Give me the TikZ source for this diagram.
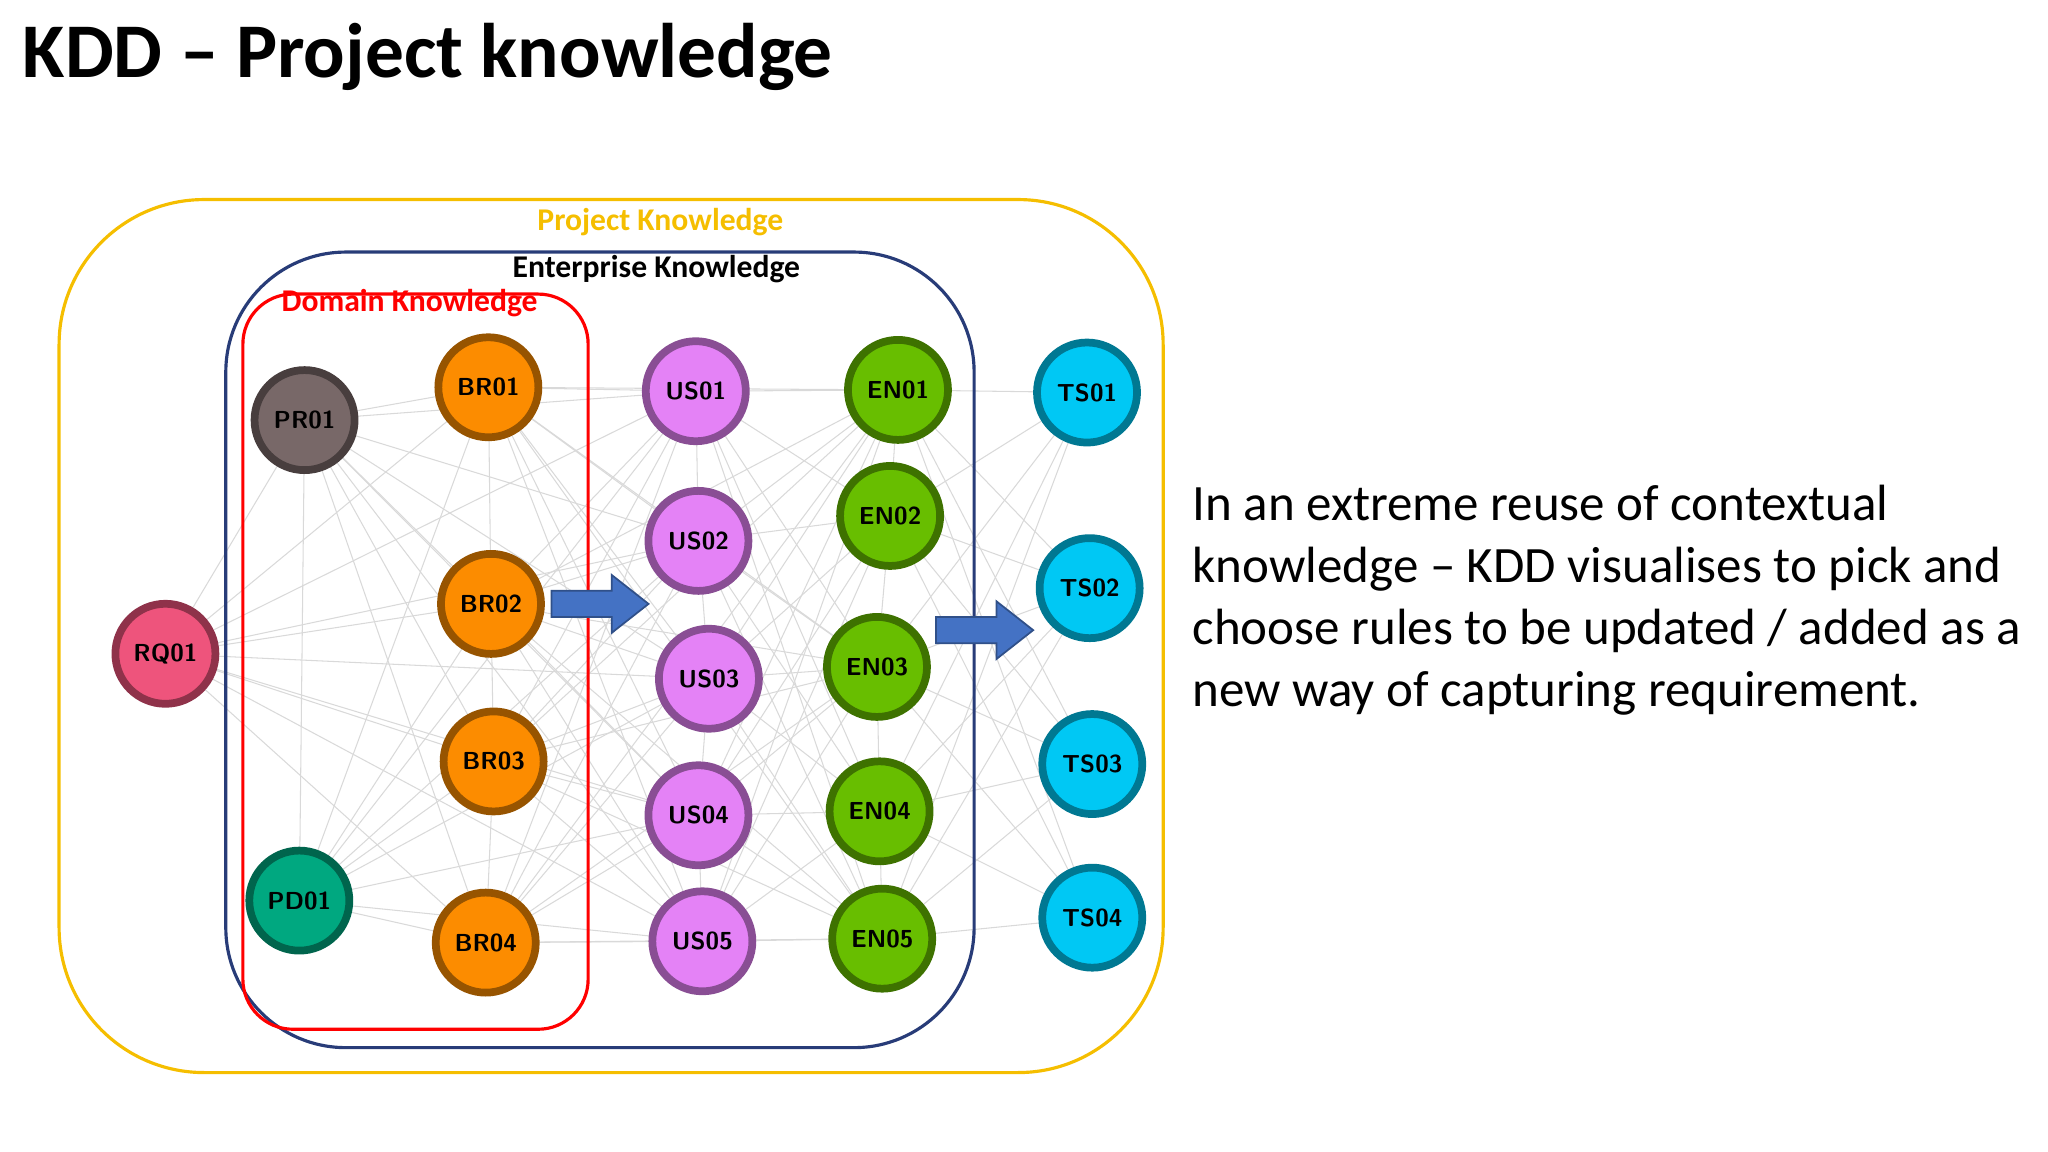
\documentclass[tikz,border=0pt]{standalone}
\usepackage{fontspec}
\setmainfont{Carlito}
\usetikzlibrary{backgrounds}
\definecolor{prc}{RGB}{120,104,104}
\definecolor{brc}{RGB}{252,140,0}
\definecolor{pdc}{RGB}{0,168,128}
\definecolor{rqc}{RGB}{238,84,124}
\definecolor{usc}{RGB}{228,130,246}
\definecolor{enc}{RGB}{104,190,0}
\definecolor{tsc}{RGB}{0,200,244}
\definecolor{pkc}{RGB}{245,190,0}
\definecolor{ekc}{RGB}{40,60,120}
\definecolor{arc}{RGB}{68,114,196}
\tikzset{
  kn/.style={circle, minimum size=1cm, inner sep=0pt, line width=2.2pt,
    font=\sffamily\bfseries\scriptsize, fill=#1, draw=#1!60!black},
  link/.style={gray!30, line width=0.3pt},
  box/.style={rounded corners=#1, line width=0.9pt},
  big/.style={fill=arc, draw=arc!70!black, line width=0.5pt}
}
\newcommand\blockarrow[1]{% left end of a block arrow
  \draw[big] (#1) ++(0,-10) -- ++(46,0) -- ++(0,-12) -- ++(28,22)
    -- ++(-28,22) -- ++(0,-12) -- ++(-46,0) -- cycle;}
\begin{document}
\begin{tikzpicture}[x=0.01313cm, y=-0.01313cm]
\useasboundingbox (0,0) rectangle (1560,877);

\node[anchor=west, font=\bfseries\fontsize{22}{26}\selectfont] at (8,43) {KDD – Project knowledge};

% knowledge boxes
\draw[box=1.45cm, pkc] (45,152) rectangle (886,817);
\draw[box=1.2cm, ekc] (172,192) rectangle (742,798);
\draw[box=0.5cm, red] (185,224) rectangle (448,784);
\node[font=\bfseries\small, pkc] at (503,169) {Project Knowledge};
\node[font=\bfseries\small] at (500,205) {Enterprise Knowledge};
\node[font=\bfseries\small, red] at (312,231) {Domain Knowledge};

% nodes
\foreach \n/\c/\x/\y in {PR01/prc/232/320, BR01/brc/372/295, BR02/brc/374/460,
    BR03/brc/376/580, BR04/brc/370/718, PD01/pdc/228/686, RQ01/rqc/126/498,
    US01/usc/530/298, US02/usc/532/412, US03/usc/540/517, US04/usc/532/621,
    US05/usc/535/717, EN01/enc/684/297, EN02/enc/678/393, EN03/enc/668/508,
    EN04/enc/670/618, EN05/enc/672/715, TS01/tsc/828/299, TS02/tsc/830/448,
    TS03/tsc/832/582, TS04/tsc/832/699}
  \node[kn=\c] (\n) at (\x,\y) {\n};

% links
\begin{pgfonlayer}{background}
\foreach \a in {PR01,PD01,RQ01}
  \foreach \b in {BR01,BR02,BR03,BR04,US01,US02,US03,US04,US05}
    \draw[link] (\a) -- (\b);
\foreach \a in {BR01,BR02,BR03,BR04}
  \foreach \b in {US01,US02,US03,US04,US05,EN01,EN03,EN05}
    \draw[link] (\a) -- (\b);
\foreach \a in {US01,US02,US03,US04,US05}
  \foreach \b in {EN01,EN02,EN03,EN04,EN05}
    \draw[link] (\a) -- (\b);
\foreach \a in {EN01,EN02,EN03,EN04,EN05}
  \foreach \b in {TS01,TS02,TS03,TS04}
    \draw[link] (\a) -- (\b);
\foreach \a/\b in {PR01/PD01, RQ01/PR01, BR01/BR02, BR02/BR03, BR03/BR04,
    US01/US02, US02/US03, US03/US04, US04/US05, EN01/EN02, EN02/EN03,
    EN03/EN04, EN04/EN05}
  \draw[link] (\a) -- (\b);
\end{pgfonlayer}

% arrows
\coordinate (arrA) at (420,460);
\coordinate (arrB) at (713,480);
\blockarrow{arrA}
\blockarrow{arrB}

\node[anchor=north west, align=left, font=\fontsize{14.5}{17.6}\selectfont]
  at (899,360) {In an extreme reuse of contextual\\knowledge – KDD visualises to pick and\\choose rules to be updated / added as a\\new way of capturing requirement.};
\end{tikzpicture}
\end{document}
